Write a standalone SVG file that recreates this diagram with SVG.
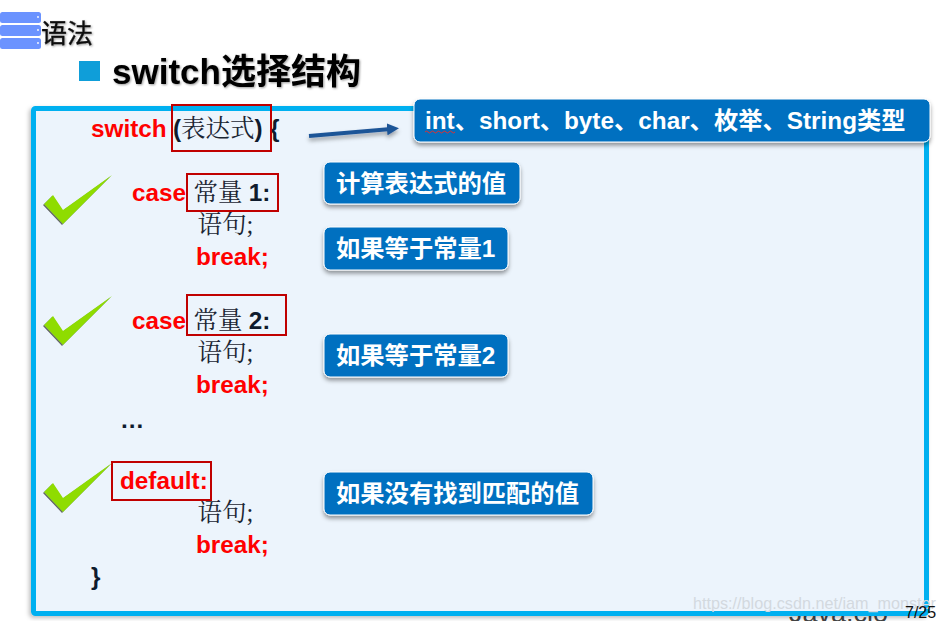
<svg xmlns="http://www.w3.org/2000/svg" width="939" height="621" viewBox="0 0 939 621">
<defs>
<style>
.s{font-family:"Liberation Sans","Noto Sans CJK SC",sans-serif;font-weight:700}
.n{font-family:"Liberation Sans","Noto Sans CJK SC",sans-serif;font-weight:400}
.r{fill:#ff0000;font-size:24.3px}
.k{fill:#0f1b2d;font-size:24.3px}
.c{font-family:"Liberation Serif","Noto Serif CJK SC","Noto Sans CJK SC",serif;font-weight:400;fill:#1a2533;font-size:24.5px}
.w{fill:#fff;font-size:24.3px}
.b{fill:#0070c0;stroke:#fff;stroke-width:1;filter:url(#sh)}
.o{fill:none;stroke:#c00000;stroke-width:2}
.v{fill:#8fdc00;filter:url(#ck)}
.l{fill:#6b93ff}
</style>
<filter id="sh" x="-5%" y="-20%" width="110%" height="150%"><feDropShadow dx="0" dy="3" stdDeviation="2" flood-color="#000" flood-opacity=".4"/></filter>
<filter id="as" filterUnits="userSpaceOnUse" x="295" y="110" width="120" height="40"><feDropShadow dx="0" dy="3" stdDeviation="2" flood-color="#000" flood-opacity=".35"/></filter>
<filter id="ck" x="-10%" y="-10%" width="120%" height="130%"><feDropShadow dx="-1" dy="1" stdDeviation=".4" flood-color="#555" flood-opacity=".9"/></filter>
<filter id="ps" x="-3%" y="-3%" width="106%" height="106%"><feDropShadow dx="-2" dy="2" stdDeviation="2" flood-color="#000" flood-opacity=".25"/></filter>
<filter id="ts" x="-5%" y="-5%" width="110%" height="120%"><feDropShadow dx="1" dy="1" stdDeviation=".8" flood-color="#000" flood-opacity=".4"/></filter>
<marker id="ah" markerWidth="3" markerHeight="3" refX="1" refY="1.500" orient="auto"><path d="M0 0L3 1.500L0 3Z" fill="#1f5597"/></marker>
<path id="chk" d="M0 29L9 20L19 35L68 0L19 49Z"/>
</defs>
<rect width="939" height="621" fill="#fff"/>
<text class="n" x="789" y="622" font-size="27" fill="#444">Java.clo</text>
<g id="header-icon">
<rect class="l" x="0" y="12" width="41" height="11" rx="2.5"/>
<rect class="l" x="0" y="25" width="41" height="11" rx="2.5"/>
<rect class="l" x="0" y="38" width="41" height="11" rx="2.5"/>
<circle cx="38" cy="17" r=".9" fill="#fff"/><circle cx="38" cy="30" r=".9" fill="#fff"/><circle cx="38" cy="43" r=".9" fill="#fff"/>
</g>
<text class="n" x="41" y="43" font-size="26" fill="#111" stroke="#111" stroke-width=".4" filter="url(#ts)">语法</text>
<rect x="79" y="61" width="21" height="20" fill="#0f9ed9"/>
<text class="s" x="112" y="84" font-size="35" fill="#000" filter="url(#ts)">switch选择结构</text>
<g id="panel">
<rect x="33.500" y="108.500" width="893" height="505" rx="2" fill="#ecf4fc" stroke="#00b0f0" stroke-width="5" filter="url(#ps)"/>
</g>
<g id="connectors">
<path d="M309 136L391 129" fill="none" stroke="#1f5597" stroke-width="4" marker-end="url(#ah)" filter="url(#as)"/>
</g>
<g id="code">
<text class="s r" x="91" y="137">switch</text>
<text class="c" x="173" y="137"><tspan class="s k">(</tspan>表达式<tspan class="s k">)</tspan></text>
<text class="s k" x="270" y="137">{</text>
<text class="s r" x="132" y="201">case</text>
<text class="c" x="193.500" y="201">常量 <tspan class="s k">1:</tspan></text>
<text class="c" x="197.500" y="233">语句;</text>
<text class="s r" x="196" y="265">break;</text>
<text class="s r" x="132" y="329">case</text>
<text class="c" x="193.500" y="329">常量 <tspan class="s k">2:</tspan></text>
<text class="c" x="197.500" y="361">语句;</text>
<text class="s r" x="196" y="393">break;</text>
<text class="s k" x="120" y="428">…</text>
<text class="s r" x="120" y="489">default:</text>
<text class="c" x="197.500" y="521">语句;</text>
<text class="s r" x="196" y="553">break;</text>
<text class="s k" x="91" y="585">}</text>
</g>
<g id="outline-expr"><rect class="o" x="172" y="105" width="99" height="46"/></g>
<g id="outline-c1"><rect class="o" x="187" y="174" width="91" height="37"/></g>
<g id="outline-c2"><rect class="o" x="187" y="295" width="99" height="40"/></g>
<g id="outline-def"><rect class="o" x="112" y="462" width="99" height="38"/></g>
<g id="check-1"><use href="#chk" class="v" x="44" y="175"/></g>
<g id="check-2"><use href="#chk" class="v" x="44" y="296"/></g>
<g id="check-3"><use href="#chk" class="v" x="44" y="463"/></g>
<g id="note-type"><rect class="b" x="414" y="99" width="516" height="43" rx="6"/><text class="s w" x="425" y="129">int、short、byte、char、枚举、String类型</text>
<path d="M425 132q1.500 -2 3 0t3 0t3 0t3 0t3 0t3 0t3 0t3 0t3 0t3 0" fill="none" stroke="#e03030" stroke-width="1"/></g>
<g id="note-eval"><rect class="b" x="324" y="162" width="196" height="42" rx="6"/><text class="s w" x="336" y="192">计算表达式的值</text></g>
<g id="note-1"><rect class="b" x="324" y="227" width="184" height="43" rx="6"/><text class="s w" x="336" y="257">如果等于常量1</text></g>
<g id="note-2"><rect class="b" x="324" y="334" width="184" height="43" rx="6"/><text class="s w" x="336" y="364">如果等于常量2</text></g>
<g id="note-none"><rect class="b" x="324" y="472" width="269" height="43" rx="6"/><text class="s w" x="336" y="502">如果没有找到匹配的值</text></g>
<text class="n" x="693" y="609" font-size="16.200" fill="#d3d9df">https://blog.csdn.net/iam_monster</text>
<text class="n" x="905" y="618" font-size="16" fill="#111">7/25</text>
</svg>
